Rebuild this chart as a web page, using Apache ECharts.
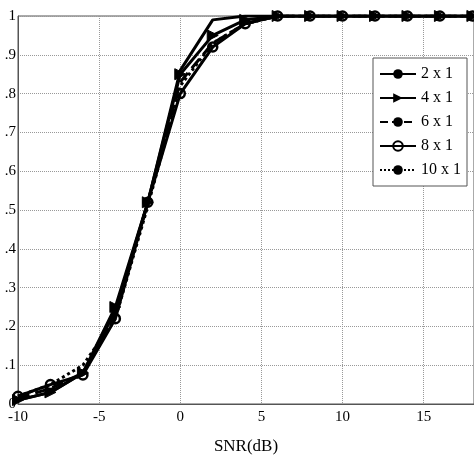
<!DOCTYPE html><html><head><meta charset="utf-8">
<script src="https://cdn.jsdelivr.net/npm/echarts@6/dist/echarts.min.js"></script>
<style>html,body{margin:0;padding:0;background:#fff}#c{width:474px;height:474px}</style></head><body><div id="c"></div>
<script>
const snr=[-10,-8,-6,-4,-2,0,2,4,6,8,10,12,14,16,18];
const s2x1=[0.01,0.03,0.08,0.24,0.52,0.86,0.99,1,1,1,1,1,1,1,1];
const s4x1=[0.01,0.03,0.08,0.25,0.52,0.85,0.95,0.99,1,1,1,1,1,1,1];
const s6x1=[0.015,0.04,0.08,0.23,0.52,0.83,0.93,0.98,1,1,1,1,1,1,1];
const s8x1=[0.02,0.05,0.075,0.22,0.52,0.80,0.92,0.98,1,1,1,1,1,1,1];
const s10x1=[0.02,0.05,0.10,0.22,0.51,0.82,0.93,0.98,1,1,1,1,1,1,1];
const names=['2 x 1','4 x 1','6 x 1','8 x 1','10 x 1'];
const F='Liberation Serif, serif';
const z=a=>snr.map((x,i)=>[x,a[i]]);
const base={type:'line',color:'#000',showSymbol:true,lineStyle:{color:'#000',width:3},itemStyle:{color:'#000'},animation:false};
const series=[
 Object.assign({},base,{name:names[0],data:z(s2x1),symbol:'none'}),
 Object.assign({},base,{name:names[1],data:z(s4x1),symbol:'triangle',symbolRotate:-90,symbolSize:11,itemStyle:{color:'#000',borderColor:'#000'}}),
 Object.assign({},base,{name:names[2],data:z(s6x1),symbol:'none',lineStyle:{color:'#000',width:3,type:'dashed'}}),
 Object.assign({},base,{name:names[3],data:z(s8x1),symbol:'circle',symbolSize:9,itemStyle:{color:'rgba(255,255,255,0)',borderColor:'#000',borderWidth:2.5}}),
 Object.assign({},base,{name:names[4],data:z(s10x1),symbol:'none',lineStyle:{color:'#000',width:3,type:'dotted'}})
];
const ch=echarts.init(document.getElementById('c'));
ch.setOption({
 animation:false,
 grid:{left:18,right:0,top:16,bottom:70,show:true,borderColor:'#555',borderWidth:1},
 xAxis:{type:'value',min:-10,max:18.1,interval:5,name:'SNR(dB)',nameLocation:'middle',nameGap:34,
  nameTextStyle:{fontFamily:F,fontSize:17,color:'#000'},
  axisLine:{onZero:false,lineStyle:{color:'#555'}},axisTick:{show:false},
  axisLabel:{fontFamily:F,fontSize:15,color:'#000',margin:6,showMaxLabel:false},
  splitLine:{show:true,lineStyle:{type:'dotted',color:'#999'}}},
 yAxis:{type:'value',min:0,max:1,interval:0.1,
  axisLine:{show:true,onZero:false,lineStyle:{color:'#555'}},axisTick:{show:false},
  axisLabel:{fontFamily:F,fontSize:15,color:'#000',margin:2,formatter:v=>v===0?'0':v===1?'1':v.toFixed(1).replace(/^0/,'')},
  splitLine:{show:true,lineStyle:{type:'dotted',color:'#999'}}},
 legend:{orient:'vertical',left:373,top:58,itemGap:8,itemWidth:36,itemHeight:12,
  backgroundColor:'#fff',borderColor:'#555',borderWidth:1,padding:[8,6,8,6],
  textStyle:{fontFamily:F,fontSize:16,color:'#000'},data:names},
 series:series
});
</script></body></html>
